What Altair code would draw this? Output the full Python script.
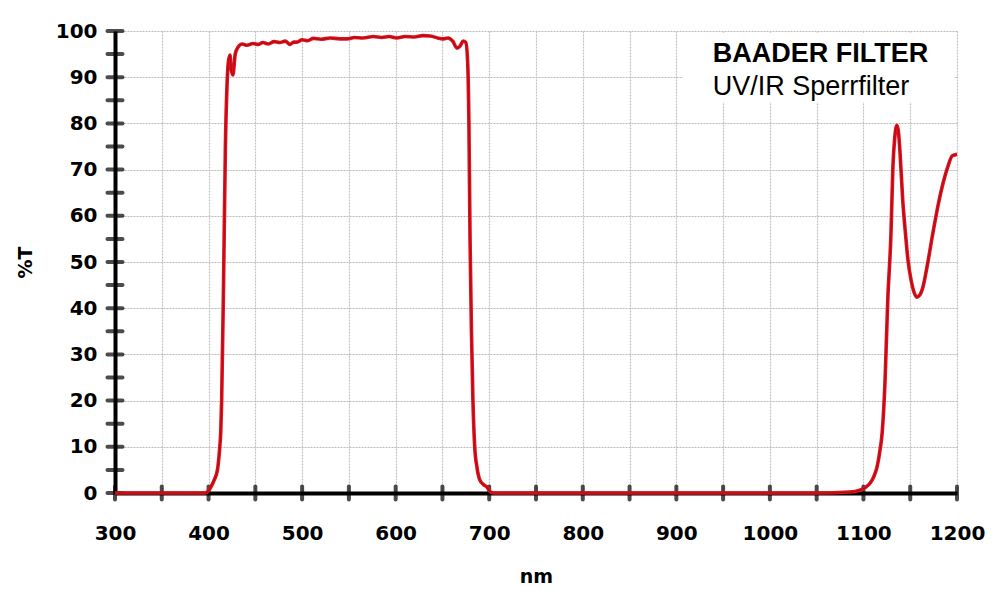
import altair as alt
import pandas as pd

# transmission curve (nm, %T)
wavelength = [300, 350, 390, 396, 400, 403, 406, 409.5, 412, 413, 414, 416, 418, 419.7, 421,
              422.9, 424, 426, 428.5, 431.5, 436, 441, 447.5, 453, 458, 464, 470, 476, 482,
              487, 491, 494.5, 500, 506, 512, 520, 530, 540, 548, 556, 565, 576, 585, 593,
              601, 610, 620, 629, 637, 645, 650, 656, 661, 665.5, 669, 672, 675, 677, 678.3,
              679.5, 681, 682.6, 684.5, 686.9, 690, 694, 697.6, 701, 705, 750, 900, 1050,
              1085, 1096, 1102, 1107, 1111, 1114.5, 1117.5, 1120, 1123, 1126, 1129.4, 1131.5,
              1133.5, 1135.8, 1137.5, 1139, 1142, 1145, 1147.6, 1151, 1154, 1157, 1160,
              1163.6, 1168, 1174, 1180, 1185, 1190, 1195, 1200]
transmission = [0, 0, 0, 0, 0.5, 1.5, 2.8, 5, 10, 13, 20, 45, 75, 88, 93,
                94.8, 92, 90.5, 95, 96.5, 97.2, 96.9, 97.3, 97.1, 97.5, 97.2, 97.7, 97.5, 97.8,
                97.1, 97.6, 97.6, 98.1, 97.9, 98.4, 98.2, 98.5, 98.3, 98.3, 98.6, 98.5, 98.8, 98.6, 98.8,
                98.5, 98.8, 98.7, 99.0, 98.9, 98.5, 98.3, 98.5, 97.8, 96.3, 96.8, 97.8, 97.5, 93, 80,
                55, 35, 20, 10, 5.6, 2.8, 1.8, 1.3, 0.3, 0, 0, 0, 0,
                0.2, 0.6, 1.2, 2.1, 3.5, 5.6, 9, 13, 23.8, 41.8, 56, 70.6,
                77, 79.6, 78, 74, 63.4, 56, 50.4, 46, 43.5, 42.4, 42.8,
                44.6, 49, 56, 62.5, 67, 70.5, 73, 73.3]

x_ticks = list(range(300, 1201, 50))
y_ticks = list(range(0, 101, 5))

title_line = 'BAADER FILTER'
sub_line = 'UV/IR Sperrfilter'

curve = pd.DataFrame({'nm': wavelength, 'T': transmission})
xt = pd.DataFrame({'nm': x_ticks, 'T': [0] * len(x_ticks)})
yt = pd.DataFrame({'nm': [300] * len(y_ticks), 'T': y_ticks})
box = pd.DataFrame({'x1': [907], 'x2': [1197], 'y1': [84.6], 'y2': [99.6]})
note1 = pd.DataFrame({'nm': [939], 'T': [93.3], 'text': [title_line]})
note2 = pd.DataFrame({'nm': [939], 'T': [86.1], 'text': [sub_line]})

x_scale = alt.Scale(domain=[300, 1200], nice=False, zero=False)
y_scale = alt.Scale(domain=[0, 100], nice=False)

x_axis = alt.Axis(values=x_ticks, format='d', title='nm', ticks=False,
                  labelExpr="datum.value % 100 == 0 ? datum.label : ''",
                  labelFlush=False, labelOverlap=False, labelPadding=30,
                  titlePadding=24, gridColor='#c2c2c2', gridDash=[2, 1], gridWidth=1.2)
y_axis = alt.Axis(values=y_ticks, format='d', title='%T', ticks=False,
                  labelExpr="datum.value % 10 == 0 ? datum.label : ''",
                  labelFlush=False, labelOverlap=False, labelPadding=18,
                  titlePadding=20,
                  gridColor={'condition': {'test': 'datum.value % 10 == 0', 'value': '#bababa'},
                             'value': '#dcdcdc'},
                  gridDash=[2, 1], gridWidth=1.2)

line = alt.Chart(curve).mark_line(color='#e3121d', strokeWidth=3.6, interpolate='monotone').encode(
    x=alt.X('nm:Q', scale=x_scale, axis=x_axis),
    y=alt.Y('T:Q', scale=y_scale, axis=y_axis)
)

core = alt.Chart(curve).mark_line(color='#8a0a10', strokeWidth=1.2, opacity=0.6, interpolate='monotone').encode(
    x='nm:Q', y='T:Q'
)

xticks = alt.Chart(xt).mark_tick(color='black', orient='vertical', size=17, thickness=4, cornerRadius=2).encode(
    x='nm:Q', y='T:Q'
)
yticks = alt.Chart(yt).mark_tick(color='black', orient='horizontal', size=19, thickness=4, cornerRadius=2).encode(
    x='nm:Q', y='T:Q'
)

rect = alt.Chart(box).mark_rect(color='white').encode(
    x='x1:Q', x2='x2', y='y1:Q', y2='y2'
)

text1 = alt.Chart(note1).mark_text(align='left', baseline='alphabetic', font='Liberation Sans',
                                   fontSize=27, fontWeight='bold', color='black').encode(
    x='nm:Q', y='T:Q', text='text:N'
)
text2 = alt.Chart(note2).mark_text(align='left', baseline='alphabetic', font='Liberation Sans',
                                   fontSize=27, color='black').encode(
    x='nm:Q', y='T:Q', text='text:N'
)

chart = alt.layer(rect, xticks, yticks, line, core, text1, text2).properties(
    width=842, height=462,
    autosize='none',
    padding={'left': 107, 'top': 23, 'right': 30, 'bottom': 95}
).configure_axis(
    domainColor='black', domainWidth=4,
    labelFont='DejaVu Sans', labelFontWeight='bold', labelFontSize=20, labelColor='black',
    titleFont='DejaVu Sans', titleFontWeight='bold', titleFontSize=19, titleColor='black'
).configure_view(stroke=None)

chart.save("out.html", embed_options={"renderer": "svg", "actions": False})
